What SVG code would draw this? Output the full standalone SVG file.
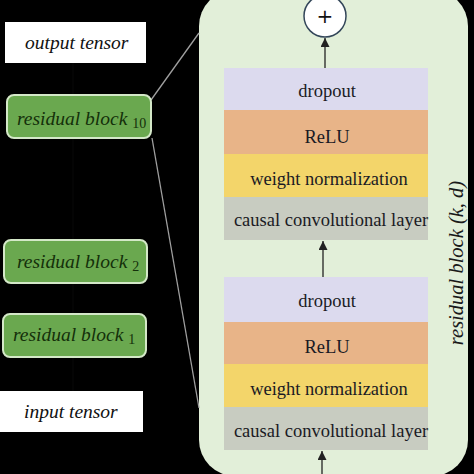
<svg xmlns="http://www.w3.org/2000/svg" width="474" height="474" viewBox="0 0 474 474">
<defs>
<marker id="ah" viewBox="0 0 10 10" refX="10" refY="5" markerWidth="9" markerHeight="9" markerUnits="userSpaceOnUse" orient="auto">
<path d="M0,0 L10,5 L0,10 z" fill="#222"/>
</marker>
</defs>
<style>
.io{fill:#ffffff}
.iot{font-family:"Liberation Serif","Times New Roman",serif;font-style:italic;font-size:19.5px;fill:#111}
.blk{fill:#6aa84f;stroke:#d4e8c8;stroke-width:2}
.blkt{font-family:"Liberation Serif","Times New Roman",serif;font-style:italic;font-size:19.5px;fill:#14300a}
.sub{font-family:"Liberation Serif","Times New Roman",serif;font-style:normal;font-size:14px;fill:#14300a}
.lay{font-family:"Liberation Serif","Times New Roman",serif;font-size:18.5px;fill:#1a1a24;text-anchor:middle}
.drop{fill:#dcdaee}
.relu{fill:#e8b488}
.wn{fill:#f3d56a}
.cc{fill:#c8ccc1}
.arr{stroke:#222;stroke-width:1.3;fill:none;marker-end:url(#ah)}
.zoomln{stroke:#a0a0a0;stroke-width:1.3;fill:none}
.conn{stroke:#070707;stroke-width:1.2;fill:none}
</style>
<rect x="0" y="0" width="474" height="474" fill="#000"/>

<g id="panel">
<rect x="199" y="-10" width="269" height="486" rx="36" ry="36" fill="#e2efd9"/>
<text transform="translate(463,263) rotate(-90)" text-anchor="middle" style="font-family:'Liberation Serif','Times New Roman',serif;font-style:italic;font-size:20.5px;fill:#1a1a1a">residual block (k, d)</text>
</g>

<g id="connectors">
<line class="conn" x1="73" y1="63" x2="73" y2="95"/>
<line class="conn" x1="73" y1="138" x2="73" y2="240"/>
<line class="conn" x1="73" y1="283" x2="73" y2="314"/>
<line class="conn" x1="73" y1="357" x2="73" y2="391"/>
<line class="zoomln" x1="151" y1="100" x2="199" y2="33"/>
<line class="zoomln" x1="152" y1="138" x2="199" y2="408"/>
<line class="arr" x1="325" y1="68" x2="325" y2="38"/>
<line class="arr" x1="323" y1="277" x2="323" y2="241"/>
<line class="arr" x1="322" y1="476" x2="322" y2="451"/>
</g>

<g id="output-tensor">
<rect class="io" x="5" y="22" width="141" height="41"/>
<text class="iot" x="25" y="49">output tensor</text>
</g>
<g id="residual-block-10">
<rect class="blk" x="7" y="95" width="144" height="43" rx="7"/>
<text class="blkt" x="17" y="125">residual block <tspan class="sub" dy="3">10</tspan></text>
</g>
<g id="residual-block-2">
<rect class="blk" x="4" y="240" width="143" height="43" rx="7"/>
<text class="blkt" x="17" y="268">residual block <tspan class="sub" dy="3">2</tspan></text>
</g>
<g id="residual-block-1">
<rect class="blk" x="3" y="314" width="143" height="43" rx="7"/>
<text class="blkt" x="13" y="341">residual block <tspan class="sub" dy="3">1</tspan></text>
</g>
<g id="input-tensor">
<rect class="io" x="0" y="391" width="143" height="41"/>
<text class="iot" x="24" y="418">input tensor</text>
</g>

<g id="sum">
<circle cx="325" cy="16" r="21" fill="#ffffff" stroke="#34475a" stroke-width="1.5"/>
<text x="325" y="23" text-anchor="middle" style="font-family:'DejaVu Sans',sans-serif;font-size:20px;fill:#111">+</text>
</g>

<g id="upper-stack">
<rect class="drop" x="224" y="68" width="204" height="42"/>
<text class="lay" x="327" y="97">dropout</text>
<rect class="relu" x="224" y="110" width="204" height="44"/>
<text class="lay" x="327" y="143">ReLU</text>
<rect class="wn" x="224" y="154" width="204" height="43"/>
<text class="lay" x="329" y="185">weight normalization</text>
<rect class="cc" x="224" y="197" width="204" height="43"/>
<text class="lay" x="331" y="226">causal convolutional layer</text>
</g>

<g id="lower-stack">
<rect class="drop" x="224" y="277" width="204" height="45"/>
<text class="lay" x="327" y="307">dropout</text>
<rect class="relu" x="224" y="322" width="204" height="42"/>
<text class="lay" x="327" y="353">ReLU</text>
<rect class="wn" x="224" y="364" width="204" height="43"/>
<text class="lay" x="329" y="395">weight normalization</text>
<rect class="cc" x="224" y="407" width="204" height="43"/>
<text class="lay" x="331" y="437">causal convolutional layer</text>
</g>
</svg>
